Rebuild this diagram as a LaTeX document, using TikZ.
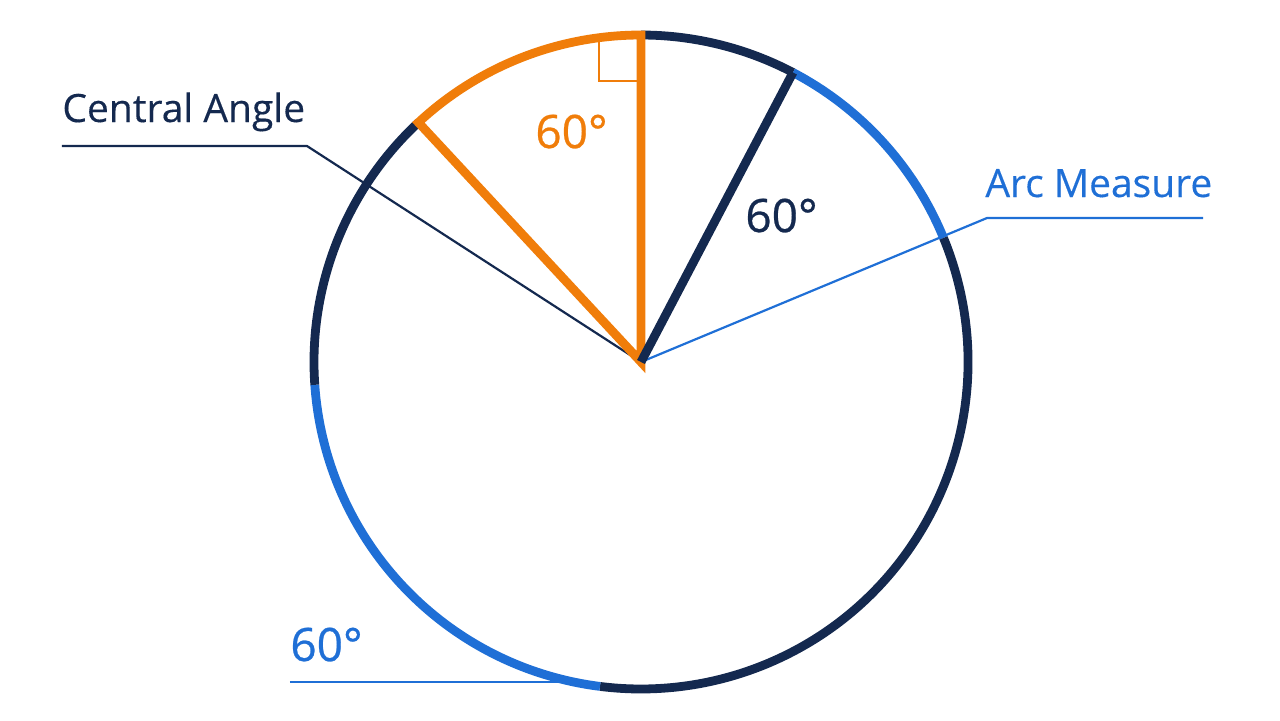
\documentclass[tikz,border=0pt]{standalone}
\usepackage{fontspec}
\setmainfont{Open Sans}
\newfontfamily\degfont[FakeBold=0.6]{Open Sans}
\newfontfamily\tagfont[FakeBold=0.3]{Open Sans}
\definecolor{navy}{HTML}{14294F}
\definecolor{arcblue}{HTML}{1F6FD6}
\definecolor{orng}{HTML}{F07D0A}

\begin{document}
\begin{tikzpicture}[x=0.5pt,y=0.5pt,
    ring/.style={line width=4.4pt},
    leader/.style={line width=1.1pt},
    tag/.style={font=\tagfont\fontsize{19.5}{22}\selectfont, inner sep=0pt, anchor=base west},
    degtext/.style={font=\degfont\fontsize{23}{27}\selectfont, inner sep=0pt, anchor=base west}]
      \useasboundingbox (-641,-358) rectangle (639,362);
      \coordinate (O) at (0,0);
      \foreach \a/\b/\c in {90/62.3/navy, 62.3/22.3/arcblue, 22.3/-97.2/navy, 262.8/184/arcblue, 184/132.9/navy}{
        \draw [ring,\c] (\a:327) arc [start angle=\a, end angle=\b, radius=327];
      }
      \coordinate (ca-end) at (-579,216);
      \coordinate (ca-bend) at (-334,216);
      \draw [leader,navy] (ca-end) -- (ca-bend) -- (O);
      \coordinate (am-end) at (562,144);
      \coordinate (am-bend) at (346,144);
      \draw [leader,arcblue] (am-end) -- (am-bend) -- (O);
      \coordinate (bm-end) at (-351,-320);
      \coordinate (bm-circ) at (-67,-320);
      \draw [leader,arcblue] (bm-end) -- (bm-circ);
      \coordinate (s133) at (132.9:327);
      \coordinate (s62) at (62.3:327);
      \draw [ring,orng,line join=miter] (O) -- (s133) arc [start angle=132.9, end angle=90, radius=327] -- cycle;
      \draw [orng,line width=0.75pt] (-42,320) -- (-42,281) -- (-4,281);
      \draw [ring,navy] (O) -- (s62);
      \node (ca) [tag,navy] at (-579,240) {Central Angle};
      \node (am) [tag,arcblue] at (344,165) {Arc Measure};
      \node (d1) [degtext,orng] at (-106,214) {60°};
      \node (d2) [degtext,navy] at (104,130) {60°};
      \node (d3) [degtext,arcblue] at (-351,-299) {60°};
    \end{tikzpicture}
\end{document}
